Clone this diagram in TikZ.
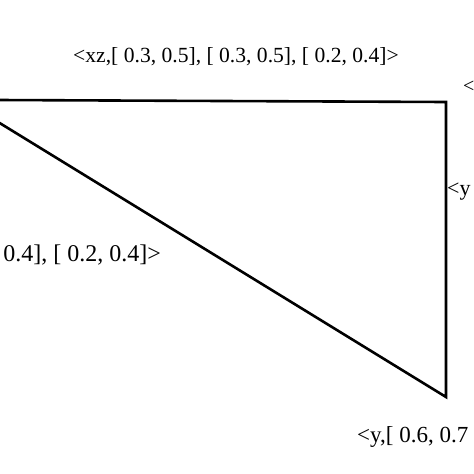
\documentclass[tikz,border=0pt]{standalone}
\usepackage{fontspec}
\setmainfont{Liberation Serif}
\begin{document}
\begin{tikzpicture}[x=1pt,y=-1pt,
  edge/.style={line width=2.6pt, line join=miter},
  lbl/.style={inner sep=0pt}]
\useasboundingbox (0,0) rectangle (474,474);
\clip (0,0) rectangle (474,474);
\fill[white] (0,0) rectangle (474,474);
\coordinate (a) at (-2,100);
\coordinate (b) at (446,102);
\coordinate (c) at (446,397);
\coordinate (d) at (-2,122);
\draw[edge] (a) -- (b) -- (c) -- (d);
\node[lbl, font=\fontsize{21.6}{24}\selectfont] (top) at (236,57) {<xz,[ 0.3, 0.5], [ 0.3, 0.5], [ 0.2, 0.4]>};
\node[lbl, anchor=east, font=\fontsize{24}{26}\selectfont] (left) at (161,255) {0.4], [ 0.2, 0.4]>};
\node[lbl, anchor=west, font=\fontsize{20}{22}\selectfont] (tr) at (463,87) {<};
\node[lbl, anchor=west, font=\fontsize{22}{24}\selectfont] (mid) at (447,192) {<y};
\node[lbl, anchor=west, font=\fontsize{23}{25}\selectfont] (bot) at (357,437) {<y,[ 0.6, 0.7};
\end{tikzpicture}
\end{document}
